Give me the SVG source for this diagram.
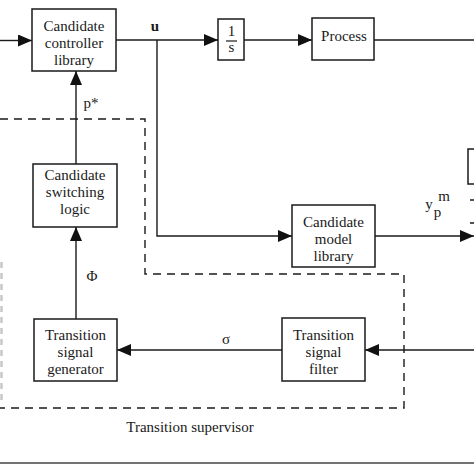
<svg xmlns="http://www.w3.org/2000/svg" width="474" height="474" viewBox="0 0 474 474">
<defs>
<marker id="ah" markerUnits="userSpaceOnUse" markerWidth="14" markerHeight="12" refX="14" refY="6" orient="auto">
<path d="M0,0 L14,6 L0,12 z" fill="#111"/>
</marker>
<style>
.box{fill:#fff;stroke:#1a1a1a;stroke-width:1.5}
.t{font-family:"Liberation Serif","DejaVu Serif",serif;font-size:15px;fill:#1a1a1a;text-anchor:middle}
.c{fill:none;stroke:#1a1a1a;stroke-width:1.4}
.a{marker-end:url(#ah)}
.d{fill:none;stroke:#1a1a1a;stroke-width:1.4;stroke-dasharray:8,6}
</style>
</defs>
<rect width="474" height="474" fill="#fff"/>

<g id="connectors">
<path class="c a" d="M0,40.5 H32"/>
<path class="c a" d="M116,40 H218"/>
<path class="c a" d="M157,40 V236 H292"/>
<path class="c a" d="M244,40 H312"/>
<path class="c" d="M374,40 H474"/>
<path class="c a" d="M375,236 H474"/>
<path class="c a" d="M76,164 V71"/>
<path class="c a" d="M76,319 V227"/>
<path class="c a" d="M282,350 H117"/>
<path class="c a" d="M474,350 H365"/>
<path class="c" d="M470,200 H474 M470,223 H474"/>
</g>

<g id="labels">
<text class="t" x="155" y="31" font-weight="bold" font-size="13">u</text>
<text class="t" x="91" y="108">p*</text>
<text class="t" x="92" y="281">Φ</text>
<text class="t" x="226" y="344">σ</text>
<text class="t" x="429" y="209">y</text>
<text class="t" x="444" y="201" font-size="10">m</text>
<text class="t" x="437.5" y="217" font-size="10">p</text>
</g>

<g id="supervisor">
<path class="d" d="M0,119 H145 V274 H404 V408 H0"/>
<path d="M1.5,262 V400" fill="none" stroke="#c8c8c8" stroke-width="2.5" stroke-dasharray="6,5"/>
<text class="t" x="190" y="432" font-size="14.5">Transition supervisor</text>
</g>

<g id="controller">
<rect class="box" x="32" y="9" width="84" height="62"/>
<text class="t" x="74" y="31">Candidate</text>
<text class="t" x="74" y="48">controller</text>
<text class="t" x="74" y="65">library</text>
</g>

<g id="integrator">
<rect class="box" x="218" y="19" width="26" height="41"/>
<text class="t" x="231.5" y="36" font-size="11.5">1</text>
<path d="M226,41 H237" stroke="#1a1a1a" stroke-width="1.2"/>
<text class="t" x="231.5" y="52" font-size="11.5">s</text>
</g>

<g id="process">
<rect class="box" x="312" y="18" width="62" height="42"/>
<text class="t" x="344" y="41">Process</text>
</g>

<g id="model">
<rect class="box" x="292" y="205" width="83" height="62"/>
<text class="t" x="333.5" y="227">Candidate</text>
<text class="t" x="333.5" y="244">model</text>
<text class="t" x="333.5" y="261">library</text>
</g>

<g id="partial">
<rect class="box" x="468" y="149" width="10" height="35"/>
</g>

<g id="switching">
<rect class="box" x="33" y="164" width="84" height="63"/>
<text class="t" x="75" y="180">Candidate</text>
<text class="t" x="75" y="197">switching</text>
<text class="t" x="75" y="214">logic</text>
</g>

<g id="generator">
<rect class="box" x="34" y="319" width="83" height="62"/>
<text class="t" x="75.5" y="340">Transition</text>
<text class="t" x="75.5" y="357">signal</text>
<text class="t" x="75.5" y="374">generator</text>
</g>

<g id="filter">
<rect class="box" x="282" y="318" width="83" height="63"/>
<text class="t" x="323.5" y="340">Transition</text>
<text class="t" x="323.5" y="357">signal</text>
<text class="t" x="323.5" y="374">filter</text>
</g>

<path d="M0,463 H474" stroke="#444" stroke-width="1.5"/>
</svg>
